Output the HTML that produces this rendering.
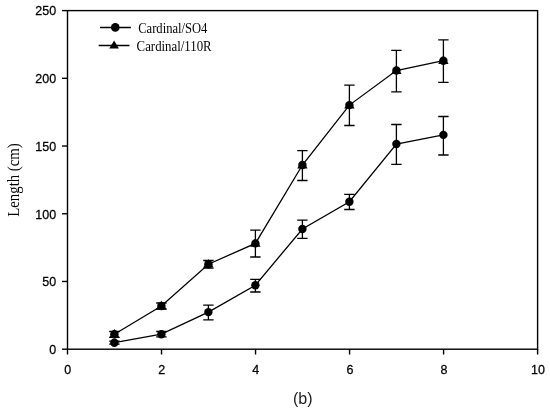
<!DOCTYPE html>
<html><head><meta charset="utf-8"><title>Length chart (b)</title>
<style>
html,body{margin:0;padding:0;background:#fff;}
body{width:550px;height:413px;overflow:hidden;}
svg{display:block;}
.t{font-family:"Liberation Sans",Arial,sans-serif;font-size:12.5px;fill:#000;stroke:#000;stroke-width:0.25px;}
.s{font-family:"Liberation Serif","Times New Roman",serif;fill:#000;}
</style></head><body>
<svg width="550" height="413" viewBox="0 0 550 413">
<rect width="550" height="413" fill="#fff"/>
<g stroke="#000" stroke-width="1.4" fill="none" stroke-linecap="butt">
<rect x="67.5" y="10.6" width="470.10" height="338.60"/>
<line x1="62.0" y1="349.20" x2="67.5" y2="349.20"/>
<line x1="62.0" y1="281.48" x2="67.5" y2="281.48"/>
<line x1="62.0" y1="213.76" x2="67.5" y2="213.76"/>
<line x1="62.0" y1="146.04" x2="67.5" y2="146.04"/>
<line x1="62.0" y1="78.32" x2="67.5" y2="78.32"/>
<line x1="62.0" y1="10.60" x2="67.5" y2="10.60"/>
<line x1="67.50" y1="349.2" x2="67.50" y2="354.5"/>
<line x1="161.52" y1="349.2" x2="161.52" y2="354.5"/>
<line x1="255.54" y1="349.2" x2="255.54" y2="354.5"/>
<line x1="349.56" y1="349.2" x2="349.56" y2="354.5"/>
<line x1="443.58" y1="349.2" x2="443.58" y2="354.5"/>
<line x1="537.60" y1="349.2" x2="537.60" y2="354.5"/>
</g>
<text class="t" transform="translate(56.2,354.00) scale(1,1.07)" text-anchor="end">0</text>
<text class="t" transform="translate(56.2,286.28) scale(1,1.07)" text-anchor="end">50</text>
<text class="t" transform="translate(56.2,218.56) scale(1,1.07)" text-anchor="end">100</text>
<text class="t" transform="translate(56.2,150.84) scale(1,1.07)" text-anchor="end">150</text>
<text class="t" transform="translate(56.2,83.12) scale(1,1.07)" text-anchor="end">200</text>
<text class="t" transform="translate(56.2,15.40) scale(1,1.07)" text-anchor="end">250</text>
<text class="t" transform="translate(67.80,374.1) scale(1,1.09)" text-anchor="middle">0</text>
<text class="t" transform="translate(161.82,374.1) scale(1,1.09)" text-anchor="middle">2</text>
<text class="t" transform="translate(255.84,374.1) scale(1,1.09)" text-anchor="middle">4</text>
<text class="t" transform="translate(349.86,374.1) scale(1,1.09)" text-anchor="middle">6</text>
<text class="t" transform="translate(443.88,374.1) scale(1,1.09)" text-anchor="middle">8</text>
<text class="t" transform="translate(537.90,374.1) scale(1,1.09)" text-anchor="middle">10</text>
<text class="s" font-size="14.8px" transform="translate(18.9,180.0) rotate(-90) scale(1,1.06)" text-anchor="middle">Length (cm)</text>
<text class="t" style="font-size:16px;fill:#1c1c1c;stroke:none" x="302.7" y="403.8" text-anchor="middle">(b)</text>
<g stroke="#000" stroke-width="1.3" fill="none">
<polyline points="114.4,334.3 161.4,306.0 208.4,264.2 255.4,243.4 302.4,165.0 349.4,105.1 396.4,70.5 443.4,60.7"/>
<path d="M114.4 331.5V337.3M109.2 331.5H119.6M109.2 337.3H119.6"/>
<path d="M161.4 303.0V309.0M156.2 303.0H166.6M156.2 309.0H166.6"/>
<path d="M208.4 260.5V268.2M203.2 260.5H213.6M203.2 268.2H213.6"/>
<path d="M255.4 230.1V257.0M250.2 230.1H260.6M250.2 257.0H260.6"/>
<path d="M302.4 150.6V180.5M297.2 150.6H307.6M297.2 180.5H307.6"/>
<path d="M349.4 85.1V125.5M344.2 85.1H354.6M344.2 125.5H354.6"/>
<path d="M396.4 50.4V91.9M391.2 50.4H401.6M391.2 91.9H401.6"/>
<path d="M443.4 39.8V82.4M438.2 39.8H448.6M438.2 82.4H448.6"/>
</g>
<g fill="#000" stroke="none">
<circle cx="114.4" cy="334.3" r="4.2"/>
<path d="M114.4 329.1L119.6 337.7H109.2Z"/>
<circle cx="161.4" cy="306.0" r="4.2"/>
<path d="M161.4 300.8L166.6 309.4H156.2Z"/>
<circle cx="208.4" cy="264.2" r="4.2"/>
<path d="M208.4 259.0L213.6 267.6H203.2Z"/>
<circle cx="255.4" cy="243.4" r="4.2"/>
<path d="M255.4 238.2L260.6 246.8H250.2Z"/>
<circle cx="302.4" cy="165.0" r="4.2"/>
<path d="M302.4 159.8L307.6 168.4H297.2Z"/>
<circle cx="349.4" cy="105.1" r="4.2"/>
<path d="M349.4 99.9L354.6 108.5H344.2Z"/>
<circle cx="396.4" cy="70.5" r="4.2"/>
<path d="M396.4 65.3L401.6 73.9H391.2Z"/>
<circle cx="443.4" cy="60.7" r="4.2"/>
<path d="M443.4 55.5L448.6 64.1H438.2Z"/>
</g>
<g stroke="#000" stroke-width="1.3" fill="none">
<polyline points="114.4,342.7 161.4,334.2 208.4,312.1 255.4,285.2 302.4,229.0 349.4,201.7 396.4,144.0 443.4,134.9"/>
<path d="M114.4 341.2V344.2M109.2 341.2H119.6M109.2 344.2H119.6"/>
<path d="M161.4 331.5V336.9M156.2 331.5H166.6M156.2 336.9H166.6"/>
<path d="M208.4 305.2V319.8M203.2 305.2H213.6M203.2 319.8H213.6"/>
<path d="M255.4 279.4V292.0M250.2 279.4H260.6M250.2 292.0H260.6"/>
<path d="M302.4 220.1V238.3M297.2 220.1H307.6M297.2 238.3H307.6"/>
<path d="M349.4 194.4V209.5M344.2 194.4H354.6M344.2 209.5H354.6"/>
<path d="M396.4 124.5V164.3M391.2 124.5H401.6M391.2 164.3H401.6"/>
<path d="M443.4 116.5V155.0M438.2 116.5H448.6M438.2 155.0H448.6"/>
</g>
<g fill="#000" stroke="none">
<circle cx="114.4" cy="342.7" r="4.2"/>
<circle cx="161.4" cy="334.2" r="4.2"/>
<circle cx="208.4" cy="312.1" r="4.2"/>
<circle cx="255.4" cy="285.2" r="4.2"/>
<circle cx="302.4" cy="229.0" r="4.2"/>
<circle cx="349.4" cy="201.7" r="4.2"/>
<circle cx="396.4" cy="144.0" r="4.2"/>
<circle cx="443.4" cy="134.9" r="4.2"/>
</g>
<g stroke="#000" stroke-width="1.3" fill="none"><path d="M100.1 27.5H130.9M98.7 45.5H129.5"/></g>
<circle cx="115.3" cy="27.4" r="4.3" fill="#000"/>
<path d="M114.1 40.4L118.9 48.5H109.3Z" fill="#000"/>
<text class="s" font-size="12.6px" transform="translate(138.2,32.6) scale(1,1.15)">Cardinal/SO4</text>
<text class="s" font-size="12.85px" transform="translate(136.6,50.6) scale(1,1.15)">Cardinal/110R</text>
</svg>
</body></html>
